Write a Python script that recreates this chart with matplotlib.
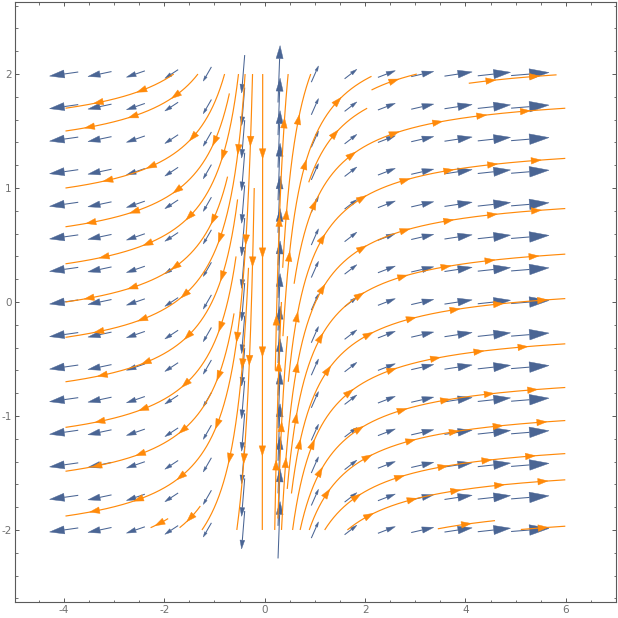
import numpy as np
import matplotlib
matplotlib.use("Agg")
import matplotlib.pyplot as plt

# ---------------- data ----------------
# grid of vector arrows (field {x, 1/x})
grid_x = [-4.0, -3.286, -2.571, -1.857, -1.143, -0.429, 0.286, 1.0,
          1.714, 2.429, 3.143, 3.857, 4.571, 5.286]
grid_y = [-2.0, -1.714, -1.429, -1.143, -0.857, -0.571, -0.286, 0.0,
          0.286, 0.571, 0.857, 1.143, 1.429, 1.714, 2.0]
vector_scale = 1.0 / 7.0

# stream lines: y = c - 1/x, drawn from y_start to y_end along the flow
stream_c = [2.165, 2.33, 2.45, 2.19, 1.867, 1.427, 0.987, 0.587, 0.197,
            -0.2, -0.583, -0.873, -1.163, -1.393, -1.70, -1.80,
            4.14, 3.09, 3.0, 1.9,
            1.448, 1.248, 0.748, 0.408, 0.083, -0.252, -0.562, -0.952,
            -1.352, -1.737, -2.13, -2.42, -2.57, -2.8, -3.8, -23.0]
stream_y_start = [1.919, 1.86, -0.3, 1.05, 0.16, -0.7, -2.0, -1.64, -1.68,
                  -2.0, -2.0, -2.0, -2.0, -2.0, -1.99, -1.996,
                  -0.6, 0.3, -2.0, -1.9,
                  2.0, 2.0, 2.0, 1.83, 2.0, 1.1, 2.0, 0.9,
                  0.4, -0.1, 2.0, -1.90, -1.79, 0.3, 1.0, 2.0]
stream_y_end = [1.993, 2.0, 1.98, 1.70, 1.70, 1.26, 0.82, 0.42, 0.03,
                -0.367, -0.75, -1.04, -1.33, -1.56, -1.918, -1.967,
                2.0, 2.0, 0.0, -0.3,
                1.70, 1.50, 1.0, 0.66, 0.335, 0.0, -0.31, -0.70,
                -1.10, -1.485, -1.878, -1.98, -1.98, -2.0, -2.0, -2.0]

x_ticks = [-4, -2, 0, 2, 4, 6]
x_tick_labels = ["-4", "-2", "0", "2", "4", "6"]
y_ticks = [-2, -1, 0, 1, 2]
y_tick_labels = ["-2", "-1", "0", "1", "2"]

BLUE = "#4a6594"
ORANGE = "#ff8a0a"


def field(x, y):
    return x, 1.0 / x


# ---------------- figure ----------------
fig = plt.figure(figsize=(6.18, 6.18), dpi=100)
ax = fig.add_axes([15 / 618, 16 / 618, 601 / 618, 600 / 618])
ax.set_xlim(-4.974, 6.998)
ax.set_ylim(-2.632, 2.632)

for sp in ax.spines.values():
    sp.set_color("#5a5a5a")
    sp.set_linewidth(0.8)

ax.set_xticks(x_ticks, labels=x_tick_labels)
ax.set_yticks(y_ticks, labels=y_tick_labels)
ax.set_xticks(np.arange(-4.5, 7.0, 0.5), minor=True)
ax.set_yticks(np.arange(-2.6, 2.61, 0.2), minor=True)
ax.tick_params(which="both", direction="in", top=True, right=True,
               colors="#5a5a5a", labelcolor="#707070", labelsize=7.5)
ax.tick_params(which="major", length=3.0, width=0.7, pad=2.5)
ax.tick_params(which="minor", length=1.8, width=0.6)

T = ax.transData
Tinv = T.inverted()


def triangle(tip, d, length, halfw):
    d = d / np.linalg.norm(d)
    p = np.array([-d[1], d[0]])
    base = tip - length * d
    pts = np.array([tip, base + halfw * p, base - halfw * p])
    return Tinv.transform(pts), Tinv.transform(base[None, :])[0]


# ---------------- vector arrows ----------------
for xi in grid_x:
    for yi in grid_y:
        u, v = field(xi, yi)
        mag = np.hypot(u, v)
        dx, dy = u * vector_scale, v * vector_scale
        tail = T.transform((xi - dx / 2, yi - dy / 2))
        tip = T.transform((xi + dx / 2, yi + dy / 2))
        d = tip - tail
        lpx = np.linalg.norm(d)
        hl = min(3.7 * mag, 0.6 * lpx)
        hw = min(1.0 * mag, 0.3 * lpx)
        poly, base = triangle(tip, d, hl, hw)
        tail_d = Tinv.transform(tail[None, :])[0]
        ax.plot([tail_d[0], base[0]], [tail_d[1], base[1]], color=BLUE,
                lw=0.75, solid_capstyle="butt", zorder=2)
        ax.fill(poly[:, 0], poly[:, 1], color=BLUE, lw=0.3, zorder=2)

# ---------------- stream lines ----------------
spacing = 0.87
for c, ya, yb in zip(stream_c, stream_y_start, stream_y_end):
    x0 = 1.0 / (c - ya)
    x1 = 1.0 / (c - yb)
    t = np.linspace(0.0, np.log(x1 / x0), 800)
    xs = x0 * np.exp(t)
    ys = c - 1.0 / xs
    ax.plot(xs, ys, color=ORANGE, lw=0.85, zorder=3, solid_capstyle="butt")
    seg = np.hypot(np.diff(xs), np.diff(ys))
    s = np.concatenate([[0.0], np.cumsum(seg)])
    L = s[-1]
    n = int(L // spacing)
    s0 = (L - n * spacing) / 2 + spacing / 2
    if n == 0:
        s0 = L / 2
    disp = T.transform(np.column_stack([xs, ys]))
    pos = s0
    while pos < L - 1e-6:
        i = int(np.searchsorted(s, pos))
        i = min(max(i, 1), len(s) - 2)
        centre = disp[i]
        d = disp[min(i + 3, len(s) - 1)] - disp[max(i - 3, 0)]
        dn = d / np.linalg.norm(d)
        tip = centre + 5.0 * dn
        poly, _ = triangle(tip, d, 10.0, 3.3)
        ax.fill(poly[:, 0], poly[:, 1], color=ORANGE, lw=0.3, zorder=4)
        pos += spacing

fig.savefig("out.png", dpi=100)
